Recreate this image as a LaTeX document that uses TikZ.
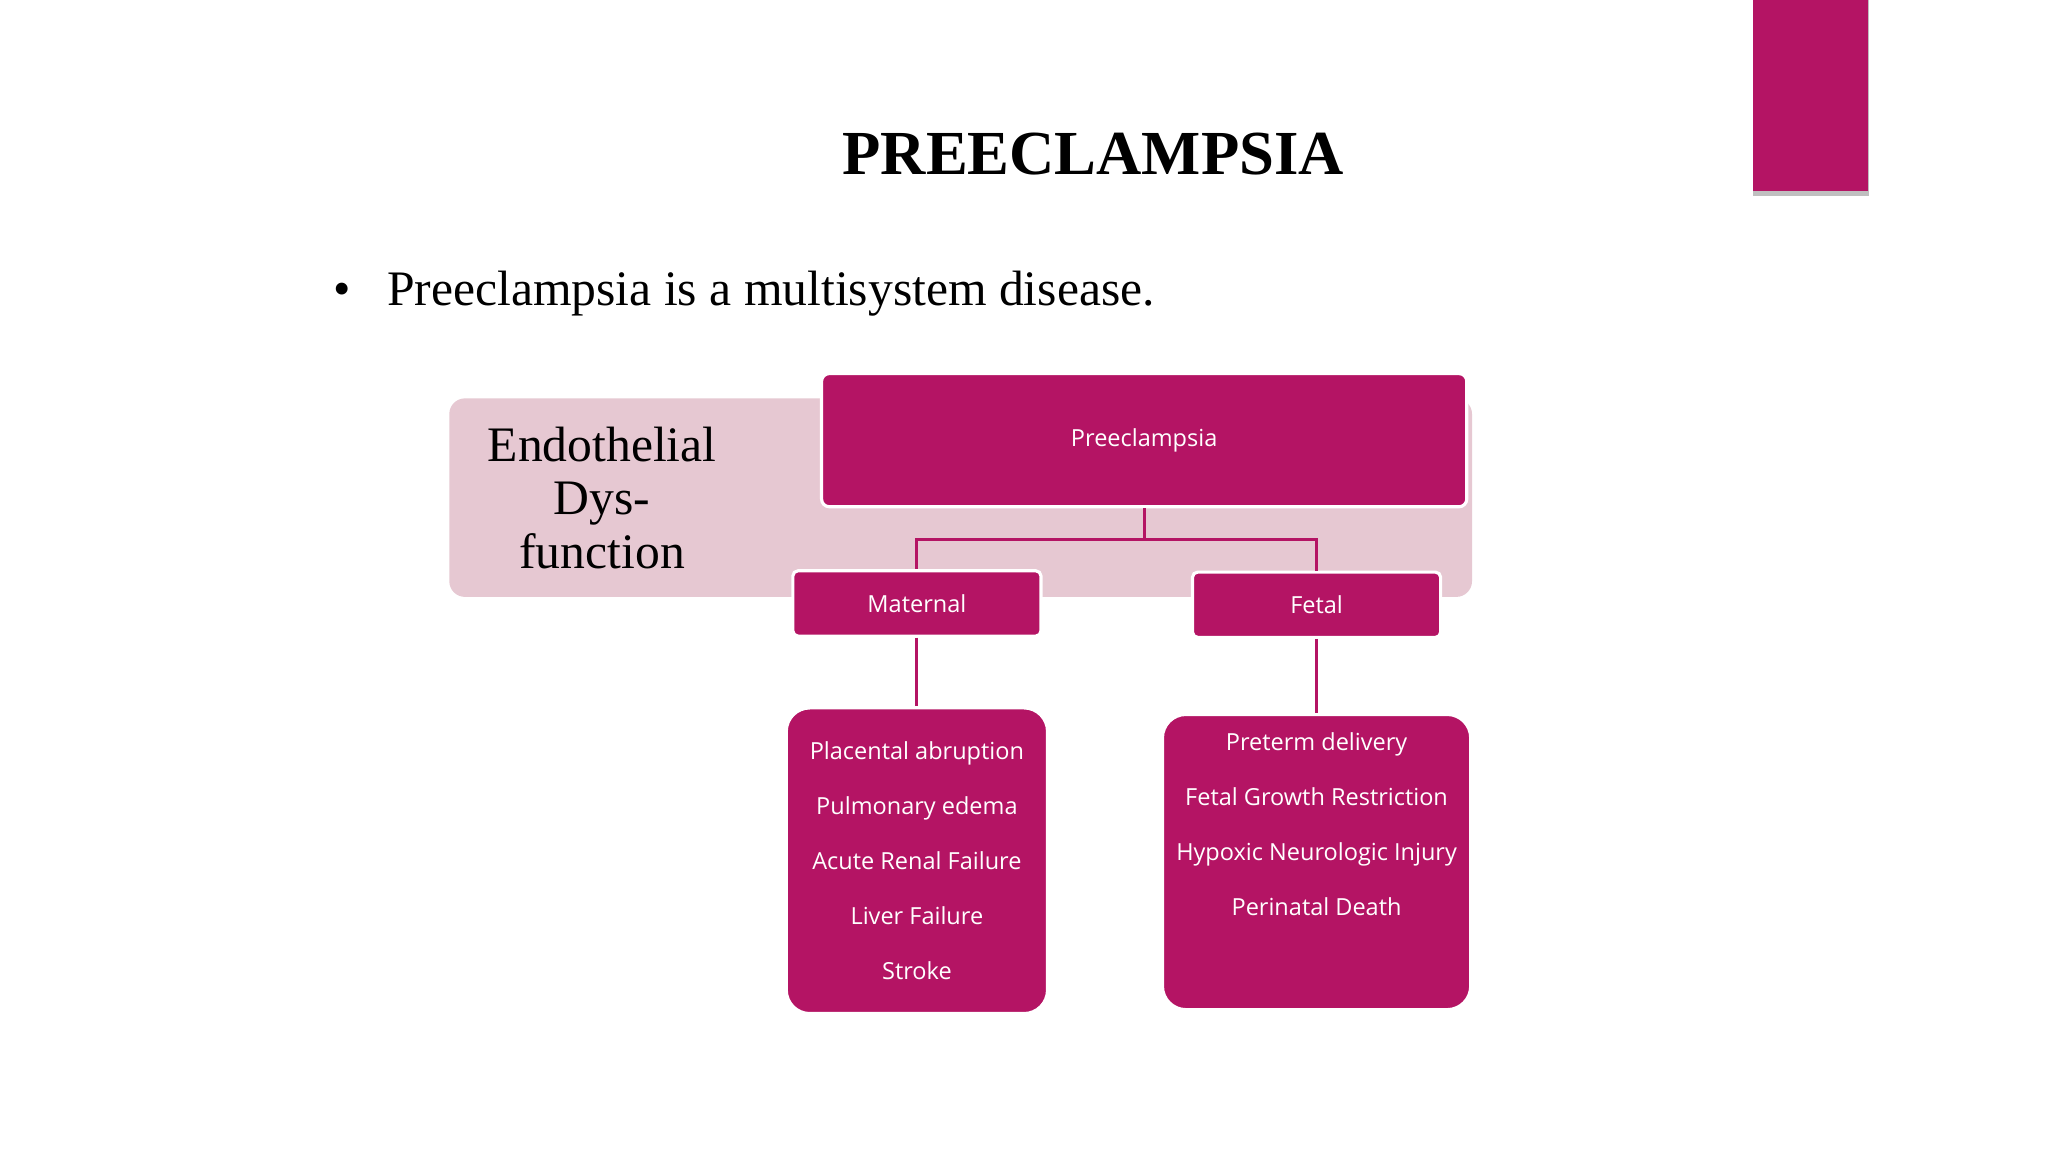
\documentclass[tikz,border=0pt]{standalone}
\usepackage{fontspec}
\setmainfont{Liberation Serif}
\newfontfamily\boxfont{Open Sans}
\usetikzlibrary{positioning}
\definecolor{plum}{RGB}{180,20,100}
\definecolor{blush}{RGB}{230,200,210}
\tikzset{
  mbox/.style={draw=white,line width=1.2pt,fill=plum,text=white,font=\boxfont\fontsize{9}{21}\selectfont,align=center,inner sep=0pt},
  link/.style={draw=plum,line width=1.2pt}
}
\begin{document}
\begin{tikzpicture}[x=0.5pt,y=-0.5pt]
\useasboundingbox[fill=white] (0,0) rectangle (1568,882);

%Corner bar
\fill[black!25] (1342,0) rectangle (1431,150);
\fill[plum] (1342,0) rectangle (1430,146);

% Title and bullet
\node (title) at (837,118) {\fontsize{24}{28}\selectfont\bfseries PREECLAMPSIA};
\node[anchor=west] (bullet) at (248,225) {\fontsize{19}{24}\selectfont\textbullet\hspace{14pt}Preeclampsia is a multisystem disease.};

% Band
\fill[blush,rounded corners=6pt] (344,305) rectangle (1127,457);
\node[align=center,font=\fontsize{19}{20.5}\selectfont] (endo) at (461,381) {Endothelial\\Dys-\\function};

% Boxes
\node[mbox,rounded corners=3pt,minimum width=247pt,minimum height=51pt] (pre) at (876,337) {Preeclampsia};
\node[mbox,rounded corners=2pt,minimum width=95pt,minimum height=25pt] (mat) at (702,462) {Maternal};
\node[mbox,rounded corners=2pt,minimum width=95pt,minimum height=25pt] (fet) at (1008,463) {Fetal};
\node[mbox,rounded corners=9pt,minimum width=100pt,minimum height=117pt] (matl) at (702,659)
  {Placental abruption\\Pulmonary edema\\Acute Renal Failure\\Liver Failure\\Stroke};
\node[mbox,rounded corners=9pt,minimum width=118pt,minimum height=113pt] (fetl) at (1008,660)
  {\raisebox{0pt}{}Preterm delivery\\Fetal Growth Restriction\\Hypoxic Neurologic Injury\\Perinatal Death\\[8pt]};

% Connectors
\draw[link] (pre.south) -- ++(0,24) -| (mat.north);
\draw[link] (pre.south) -- ++(0,24) -| (fet.north);
\draw[link] (mat.south) -- (matl.north);
\draw[link] (fet.south) -- (fetl.north);
\end{tikzpicture}
\end{document}
